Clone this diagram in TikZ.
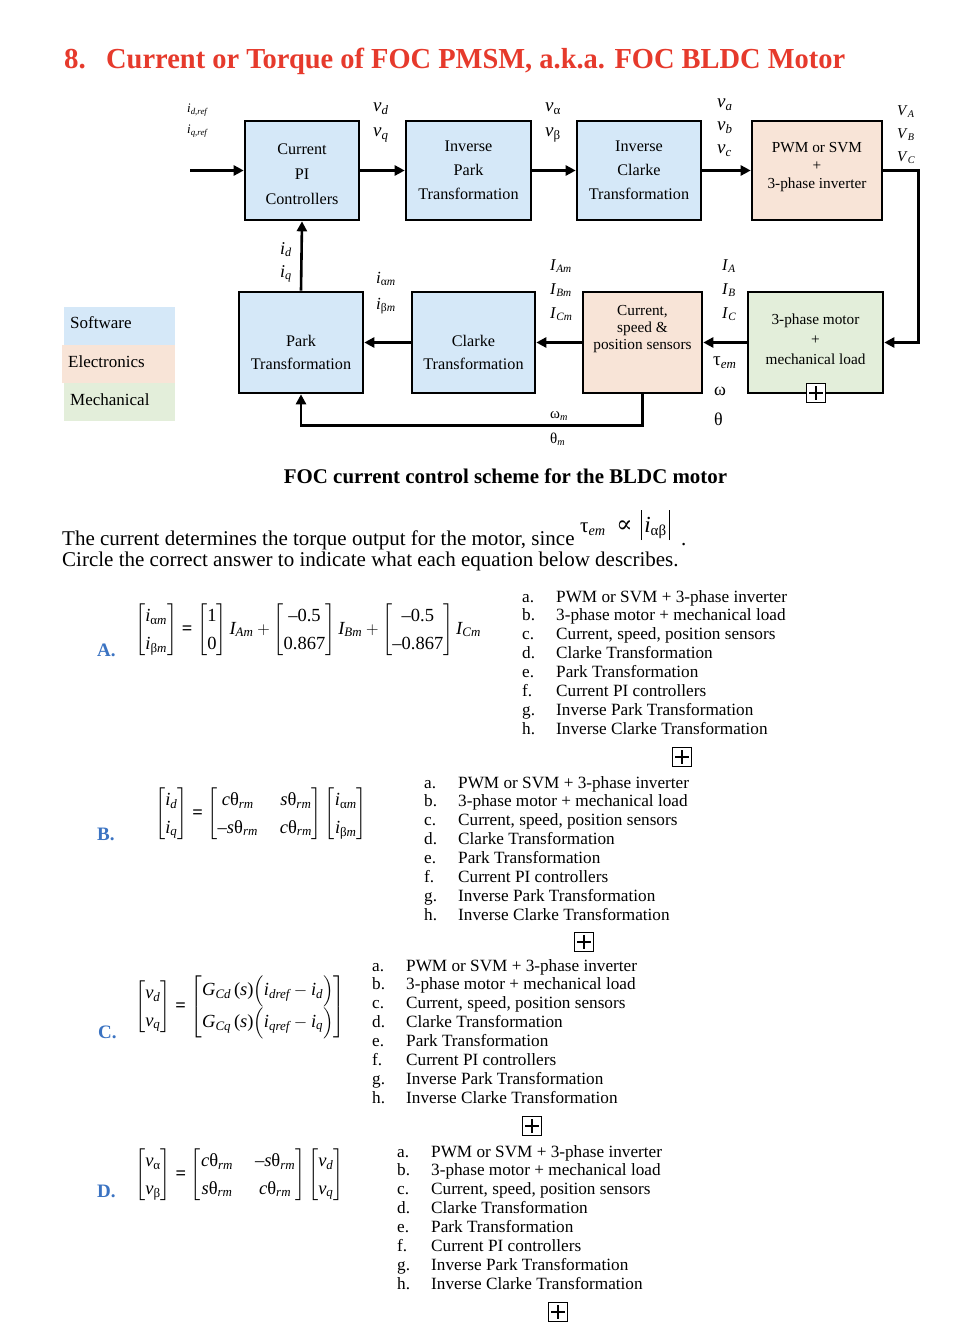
\documentclass[tikz,border=0pt]{standalone}
\usepackage{fontspec}
\setmainfont{Liberation Serif}
\newfontfamily\dvs{DejaVu Serif}
\usepackage{amsmath}
\usepackage{graphicx}
\usetikzlibrary{arrows.meta,calc}

\definecolor{swblue}{HTML}{D5E8F8}
\definecolor{elpeach}{HTML}{F8E4D7}
\definecolor{megreen}{HTML}{E3EEDA}
\definecolor{titlered}{HTML}{E63A2C}
\definecolor{qblue}{HTML}{3B73C2}

\newcommand{\fs}[1]{\fontsize{#1}{#1}\selectfont}
\newcommand{\sbx}[1]{\raisebox{-0.35ex}{\scalebox{0.68}{#1}}}
\newcommand{\vi}[1]{\text{\itshape #1}}
\newcommand{\tht}{\text{θ}}
\newcommand{\beq}{\mathrel{\text{\bfseries =}}}
\newcommand{\answers}{%
\begin{tabular}[t]{@{}p{34pt}@{}l@{}}
a. & PWM or SVM + 3-phase inverter\\
b. & 3-phase motor + mechanical load\\
c. & Current, speed, position sensors\\
d. & Clarke Transformation\\
e. & Park Transformation\\
f. & Current PI controllers\\
g. & Inverse Park Transformation\\
h. & Inverse Clarke Transformation
\end{tabular}}

\tikzset{
  blk/.style={draw, line width=2.6pt, inner sep=0pt, minimum height=99pt},
  sw/.style={blk, fill=swblue},
  el/.style={blk, fill=elpeach},
  me/.style={blk, fill=megreen},
  btxt/.style={inner sep=0pt, align=center},
  arr/.style={line width=2.6pt, -{Triangle[length=10pt,width=10pt]}},
  lab/.style={inner sep=0pt, anchor=base west},
  plusbox/.style={draw, line width=1.3pt, fill=white, minimum size=19pt, inner sep=0pt,
    path picture={
      \draw[line width=1.3pt] ([yshift=-2.5pt]path picture bounding box.north) -- ([yshift=2.5pt]path picture bounding box.south);
      \draw[line width=1.3pt] ([xshift=2.5pt]path picture bounding box.west) -- ([xshift=-2.5pt]path picture bounding box.east);}},
  legend/.style={inner sep=0pt, anchor=north west, minimum width=111pt, minimum height=38pt},
  ans/.style={inner sep=0pt, anchor=base west, font=\fontsize{17.2}{18.86}\selectfont},
  eq/.style={inner sep=0pt, anchor=west, font=\fontsize{18.5}{22}\selectfont},
  qlab/.style={inner sep=0pt, anchor=base west, text=qblue, font=\fontsize{19}{19}\selectfont\bfseries}
}

\begin{document}
\begin{tikzpicture}[x=1pt,y=-1pt]
\useasboundingbox (0,0) rectangle (978,1341);

% title
\node[lab, text=titlered, font=\fontsize{29}{29}\selectfont\bfseries] (tnum) at (64,68) {8.};
\node[lab, text=titlered, font=\fontsize{29}{29}\selectfont\bfseries] (title) at (106,68) {\resizebox{739pt}{\height}{Current or Torque of FOC PMSM, a.k.a. FOC BLDC Motor}};

% blocks
\node[sw, minimum width=114pt] (pi) at (302,170.5) {};
\node[sw, minimum width=125pt] (ipark) at (468.5,170.5) {};
\node[sw, minimum width=124pt] (iclarke) at (639,170.5) {};
\node[el, minimum width=130pt] (pwm) at (817,170.5) {};
\node[sw, minimum width=124pt, minimum height=101pt] (park) at (301,342.5) {};
\node[sw, minimum width=123pt, minimum height=101pt] (clarke) at (473.5,342.5) {};
\node[el, minimum width=119pt, minimum height=101pt] (sens) at (642.5,342.5) {};
\node[me, minimum width=135pt, minimum height=101pt] (motor) at (815.5,342.5) {};
\node[plusbox] (mplus) at (816,393) {};

% block texts
\node[btxt, font=\fontsize{16.2}{25}\selectfont] (pit) at ([yshift=-4pt]pi.center) {Current\\PI\\Controllers};
\node[btxt, font=\fontsize{16.2}{24}\selectfont] (iparkt) at (ipark.center) {Inverse\\Park\\Transformation};
\node[btxt, font=\fontsize{16.2}{24}\selectfont] (iclarket) at (iclarke.center) {Inverse\\Clarke\\Transformation};
\node[btxt, font=\fontsize{15.3}{18}\selectfont] (pwmt) at ([yshift=3.5pt]pwm.center) {PWM or SVM\\+\\3-phase inverter};
\node[btxt, font=\fontsize{16.2}{23}\selectfont] (parkt) at ([yshift=-10pt]park.center) {Park\\Transformation};
\node[btxt, font=\fontsize{16.2}{23}\selectfont] (clarket) at ([yshift=-10pt]clarke.center) {Clarke\\Transformation};
\node[btxt, font=\fontsize{15.3}{17}\selectfont] (senst) at ([yshift=13pt]sens.center) {Current,\\speed \&\\position sensors};
\node[btxt, font=\fontsize{15.3}{20}\selectfont] (motort) at ([yshift=3pt]motor.center) {3-phase motor\\+\\mechanical load};

% connectors
\coordinate (inp) at (190,170.5);
\draw[arr] (inp) -- (pi.west);
\draw[arr] (pi.east) -- (ipark.west);
\draw[arr] (ipark.east) -- (iclarke.west);
\draw[arr] (iclarke.east) -- (pwm.west);
\draw[arr] (pwm.east) -- ++(35,0) |- (motor.east);
\draw[arr] (motor.west) -- (sens.east);
\draw[arr] (sens.west) -- (clarke.east);
\draw[arr] (clarke.west) -- (park.east);
\draw[arr] (park.north) -- (pi.south);
\draw[arr] (sens.south) -- ++(0,31) -| (park.south);

% signal labels
\node[lab, font=\fs{13}] (lidr) at (187,112) {\textit{i}\sbx{\textit{d},\textit{ref}}};
\node[lab, font=\fs{13}] (liqr) at (187,133) {\textit{i}\sbx{\textit{q},\textit{ref}}};
\node[lab, font=\fs{19}] (lvd) at (373,111) {\textit{v}\sbx{\textit{d}}};
\node[lab, font=\fs{19}] (lvq) at (373,136) {\textit{v}\sbx{\textit{q}}};
\node[lab, font=\fs{19}] (lval) at (545,111) {\textit{v}\sbx{α}};
\node[lab, font=\fs{19}] (lvbe) at (545,136) {\textit{v}\sbx{β}};
\node[lab, font=\fs{19}] (lva) at (717,107) {\textit{v}\sbx{\textit{a}}};
\node[lab, font=\fs{19}] (lvb) at (717,130) {\textit{v}\sbx{\textit{b}}};
\node[lab, font=\fs{19}] (lvc) at (717,153) {\textit{v}\sbx{\textit{c}}};
\node[lab, font=\fs{15}] (lVA) at (897,115) {\textit{V}\sbx{\textit{A}}};
\node[lab, font=\fs{15}] (lVB) at (897,138) {\textit{V}\sbx{\textit{B}}};
\node[lab, font=\fs{15}] (lVC) at (897,161) {\textit{V}\sbx{\textit{C}}};
\node[lab, font=\fs{18}] (lid) at (280,254) {\textit{i}\sbx{\textit{d}}};
\node[lab, font=\fs{18}] (liq) at (280,277) {\textit{i}\sbx{\textit{q}}};
\node[lab, font=\fs{17}] (liam) at (376,283) {\textit{i}\sbx{α\textit{m}}};
\node[lab, font=\fs{17}] (libm) at (376,309) {\textit{i}\sbx{β\textit{m}}};
\node[lab, font=\fs{16.5}] (lIAm) at (550,270) {\textit{I}\sbx{\textit{Am}}};
\node[lab, font=\fs{16.5}] (lIBm) at (550,294) {\textit{I}\sbx{\textit{Bm}}};
\node[lab, font=\fs{16.5}] (lICm) at (550,318) {\textit{I}\sbx{\textit{Cm}}};
\node[lab, font=\fs{16.5}] (lIA) at (722,270) {\textit{I}\sbx{\textit{A}}};
\node[lab, font=\fs{16.5}] (lIB) at (722,294) {\textit{I}\sbx{\textit{B}}};
\node[lab, font=\fs{16.5}] (lIC) at (722,318) {\textit{I}\sbx{\textit{C}}};
\node[lab, font=\fs{19}] (ltau) at (713,365) {τ\sbx{\textit{em}}};
\node[lab, font=\fs{18}] (lom) at (714,395) {ω};
\node[lab, font=\fs{18}] (lth) at (714,425) {θ};
\node[lab, font=\fs{15}] (lomm) at (550,418) {ω\sbx{\textit{m}}};
\node[lab, font=\fs{15}] (lthm) at (550,443) {θ\sbx{\textit{m}}};

% legend
\node[legend, fill=swblue] (lsw) at (64,307) {};
\node[legend, fill=elpeach, minimum width=113pt] (lel) at (62,345) {};
\node[legend, fill=megreen] (lme) at (64,383) {};
\node[lab, font=\fs{17}] (tsw) at (70,328) {Software};
\node[lab, font=\fs{17}] (tel) at (68,367) {Electronics};
\node[lab, font=\fs{17}] (tme) at (70,405) {Mechanical};

% caption
\node[inner sep=0pt, anchor=base, font=\fontsize{20.9}{20.9}\selectfont\bfseries] (cap) at (505.5,483) {FOC current control scheme for the BLDC motor};

% text
\node[lab, font=\fs{21}] (txt1) at (62,545) {The current determines the torque output for the motor, since};
\node[lab, font=\fs{21}] (txtau) at (580,532) {τ\sbx{\textit{em}}\hspace{11pt}{\dvs\fs{24}∝}\hspace{8pt}\rule[-8pt]{0.8pt}{30pt}\hspace{3pt}{\fs{23}\textit{i}}\raisebox{-0.35ex}{\fs{15}αβ}\hspace{3pt}\rule[-8pt]{0.8pt}{30pt}};
\node[lab, font=\fs{21}] (txtdot) at (681,545) {.};
\node[lab, font=\fs{21}] (txt2) at (62,566) {Circle the correct answer to indicate what each equation below describes.};

% question A
\node[qlab] (qA) at (97,656) {A.};
\node[eq] (eqA) at (135,630) {\renewcommand{\arraystretch}{1.25}$\begin{bmatrix}\vi{i}_{\text{α}\vi{m}}\\ \vi{i}_{\text{β}\vi{m}}\end{bmatrix}\beq\begin{bmatrix}\text{1}\\ \text{0}\end{bmatrix}\vi{I}_{\vi{Am}}+\begin{bmatrix}\text{–0.5}\\ \text{0.867}\end{bmatrix}\vi{I}_{\vi{Bm}}+\begin{bmatrix}\text{–0.5}\\ \text{–0.867}\end{bmatrix}\vi{I}_{\vi{Cm}}$};
\node[ans] (ansA) at (522,602) {\answers};
\node[plusbox] (pA) at (682,757) {};

% question B
\node[qlab] (qB) at (97,840) {B.};
\node[eq] (eqB) at (155,814) {\renewcommand{\arraystretch}{1.25}\setlength{\arraycolsep}{11pt}$\begin{bmatrix}\vi{i}_{\vi{d}}\\ \vi{i}_{\vi{q}}\end{bmatrix}\beq\begin{bmatrix}\vi{c}\tht_{\vi{rm}} & \vi{s}\tht_{\vi{rm}}\\ \text{–}\vi{s}\tht_{\vi{rm}} & \vi{c}\tht_{\vi{rm}}\end{bmatrix}\begin{bmatrix}\vi{i}_{\text{α}\vi{m}}\\ \vi{i}_{\text{β}\vi{m}}\end{bmatrix}$};
\node[ans] (ansB) at (424,788) {\answers};
\node[plusbox] (pB) at (584,942) {};

% question C
\node[qlab] (qC) at (98,1038) {C.};
\node[eq] (eqC) at (135,1007) {\renewcommand{\arraystretch}{1.25}$\begin{bmatrix}\vi{v}_{\vi{d}}\\ \vi{v}_{\vi{q}}\end{bmatrix}\beq\begin{bmatrix}\vi{G}_{\vi{Cd}}\,\text{(}\vi{s}\text{)}\Bigl(\vi{i}_{\vi{dref}}-\vi{i}_{\vi{d}}\Bigr)\\[4pt] \vi{G}_{\vi{Cq}}\,\text{(}\vi{s}\text{)}\Bigl(\vi{i}_{\vi{qref}}-\vi{i}_{\vi{q}}\Bigr)\end{bmatrix}$};
\node[ans] (ansC) at (372,971) {\answers};
\node[plusbox] (pC) at (532,1126) {};

% question D
\node[qlab] (qD) at (97,1197) {D.};
\node[eq] (eqD) at (135,1175) {\renewcommand{\arraystretch}{1.25}\setlength{\arraycolsep}{11pt}$\begin{bmatrix}\vi{v}_{\text{α}}\\ \vi{v}_{\text{β}}\end{bmatrix}\beq\begin{bmatrix}\vi{c}\tht_{\vi{rm}} & \text{–}\vi{s}\tht_{\vi{rm}}\\ \vi{s}\tht_{\vi{rm}} & \vi{c}\tht_{\vi{rm}}\end{bmatrix}\begin{bmatrix}\vi{v}_{\vi{d}}\\ \vi{v}_{\vi{q}}\end{bmatrix}$};
\node[ans] (ansD) at (397,1157) {\answers};
\node[plusbox] (pD) at (558,1312) {};
\end{tikzpicture}
\end{document}
